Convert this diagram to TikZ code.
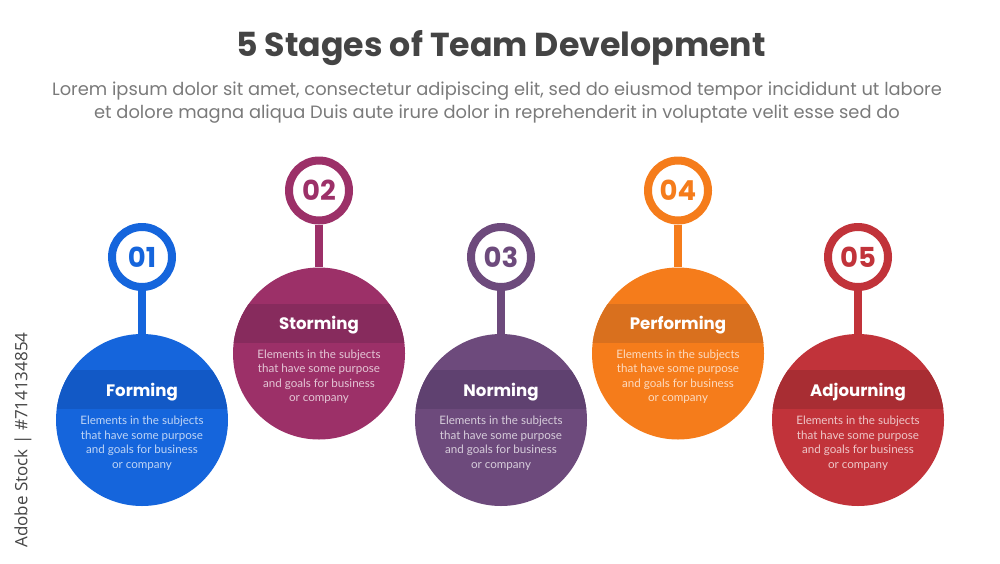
\documentclass[tikz,border=0pt]{standalone}
\usepackage{fontspec}
\setmainfont{Lato}
\newfontfamily\headfont{Poppins}
\newfontfamily\stockfont{Open Sans}
\definecolor{stageA}{HTML}{1565DC}
\definecolor{bandA}{HTML}{1259C6}
\definecolor{stageB}{HTML}{9C3068}
\definecolor{bandB}{HTML}{872B5D}
\definecolor{stageC}{HTML}{6D4A7C}
\definecolor{bandC}{HTML}{5F4170}
\definecolor{stageD}{HTML}{F57C1B}
\definecolor{bandD}{HTML}{D9701E}
\definecolor{stageE}{HTML}{C1333A}
\definecolor{bandE}{HTML}{A82D33}
\definecolor{titlegray}{HTML}{444444}
\definecolor{subgray}{HTML}{7A7A7A}
\tikzset{
  disk/.style={circle,minimum size=172pt,inner sep=0pt},
  ring/.style={circle,draw,line width=8pt,fill=white,minimum size=60pt,inner sep=0pt,font=\headfont\bfseries\fontsize{27.5}{27.5}\selectfont},
  stem/.style={line width=8pt},
  heading/.style={text=white,font=\headfont\bfseries\fontsize{16.6}{16.6}\selectfont},
  body/.style={text=white,text opacity=0.72,align=center,font=\fontsize{11.6}{14.5}\selectfont}
}
\begin{document}
\begin{tikzpicture}[x=1pt,y=-1pt]
\useasboundingbox (0,0) rectangle (1000,563);

\node (title) at (501,48) [text=titlegray,font=\headfont\bfseries\fontsize{33.2}{33.2}\selectfont] {5 Stages of Team Development};
\node (sub) at (497,103) [text=subgray,align=center,font=\headfont\fontsize{17.85}{23}\selectfont] {Lorem ipsum dolor sit amet, consectetur adipiscing elit, sed do eiusmod tempor incididunt ut labore\\et dolore magna aliqua Duis aute irure dolor in reprehenderit in voluptate velit esse sed do};
\node (stock) at (23,440) [rotate=90,text=titlegray,font=\stockfont\fontsize{17}{17}\selectfont] {Adobe Stock | \#714134854};

\foreach \name/\cx/\cy/\tone/\shade/\num/\lab in {
  a/142/420/stageA/bandA/01/Forming,
  b/319/353.5/stageB/bandB/02/Storming,
  c/501/420/stageC/bandC/03/Norming,
  d/678/353.5/stageD/bandD/04/Performing,
  e/858/420/stageE/bandE/05/Adjourning} {
  \node[disk,fill=\tone] (disk\name) at (\cx,\cy) {};
  \begin{scope}
  \clip (\cx,\cy) circle (86);
  \fill[\shade] (\cx-90,\cy-50) rectangle (\cx+90,\cy-11);
  \end{scope}
  \node[ring,draw=\tone,text=\tone] (ring\name) at (\cx,\cy-163) {\num};
  \draw[stem,\tone] (ring\name.south) -- (disk\name.north);
  \node[heading] (head\name) at (\cx,\cy-28) {\lab};
  \node[body] (text\name) at (\cx,\cy+23) {Elements in the subjects\\that have some purpose\\and goals for business\\or company};
}

\end{tikzpicture}
\end{document}
